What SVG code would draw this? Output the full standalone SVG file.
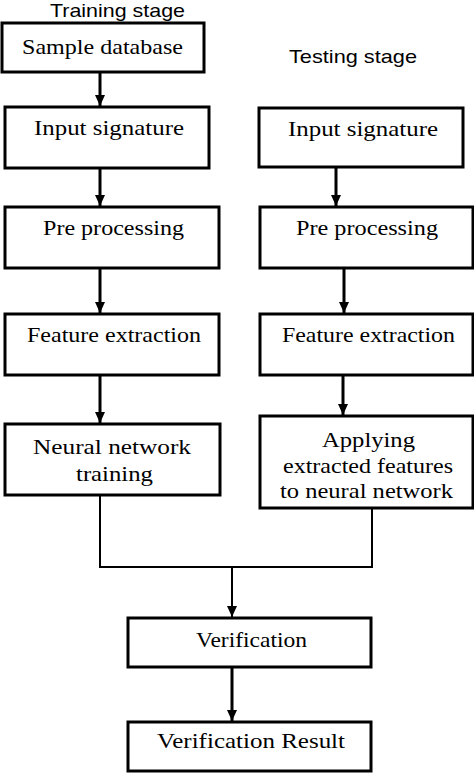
<svg xmlns="http://www.w3.org/2000/svg" width="474" height="773" viewBox="0 0 474 773">
<style>
.box{fill:#fff;stroke:#000;stroke-width:3}
.t{font-family:"Liberation Serif","DejaVu Serif",serif;font-size:21px;fill:#000}
.s{font-family:"Liberation Sans",Arial,sans-serif;font-size:19px;fill:#000}
.a{fill:none;stroke:#000;stroke-width:3}
.c{fill:none;stroke:#000;stroke-width:2}
</style>
<defs>
<marker id="ah" markerUnits="userSpaceOnUse" markerWidth="12" markerHeight="12" viewBox="0 0 12 12" refX="11" refY="6" orient="auto">
<path d="M0,1 L11,6 L0,11 Z" fill="#000"/>
</marker>
</defs>
<text class="s" x="50" y="17" textLength="135" lengthAdjust="spacingAndGlyphs">Training stage</text>
<text class="s" x="289" y="63" textLength="128" lengthAdjust="spacingAndGlyphs">Testing stage</text>
<g id="connectors">
<path class="a" d="M100 72 V106" marker-end="url(#ah)"/>
<path class="a" d="M100 168 V206" marker-end="url(#ah)"/>
<path class="a" d="M100 268 V313" marker-end="url(#ah)"/>
<path class="a" d="M100 375 V423" marker-end="url(#ah)"/>
<path class="a" d="M336 167 V206" marker-end="url(#ah)"/>
<path class="a" d="M344 268 V313" marker-end="url(#ah)"/>
<path class="a" d="M343 375 V415" marker-end="url(#ah)"/>
<path class="c" d="M100 495 V567 H372 V508"/>
<path class="c" d="M232 567 V617" marker-end="url(#ah)"/>
<path class="a" d="M232 667 V721" marker-end="url(#ah)"/>
</g>
<g id="sample-database">
<rect class="box" x="2" y="23" width="202" height="49"/>
<text class="t" x="22" y="54" textLength="161" lengthAdjust="spacingAndGlyphs">Sample database</text>
</g>
<g id="train-input">
<rect class="box" x="5" y="107" width="204" height="61"/>
<text class="t" x="34" y="135" textLength="150" lengthAdjust="spacingAndGlyphs">Input signature</text>
</g>
<g id="train-pre">
<rect class="box" x="5" y="207" width="214" height="61"/>
<text class="t" x="43" y="235" textLength="141" lengthAdjust="spacingAndGlyphs">Pre processing</text>
</g>
<g id="train-feature">
<rect class="box" x="5" y="314" width="214" height="61"/>
<text class="t" x="27" y="342" textLength="174" lengthAdjust="spacingAndGlyphs">Feature extraction</text>
</g>
<g id="train-nn">
<rect class="box" x="5" y="424" width="215" height="71"/>
<text class="t" x="33" y="454" textLength="158" lengthAdjust="spacingAndGlyphs">Neural network</text>
<text class="t" x="76" y="481" textLength="77" lengthAdjust="spacingAndGlyphs">training</text>
</g>
<g id="test-input">
<rect class="box" x="259" y="108" width="204" height="59"/>
<text class="t" x="288" y="136" textLength="150" lengthAdjust="spacingAndGlyphs">Input signature</text>
</g>
<g id="test-pre">
<rect class="box" x="260" y="207" width="213" height="61"/>
<text class="t" x="296" y="235" textLength="142" lengthAdjust="spacingAndGlyphs">Pre processing</text>
</g>
<g id="test-feature">
<rect class="box" x="260" y="314" width="213" height="61"/>
<text class="t" x="282" y="342" textLength="173" lengthAdjust="spacingAndGlyphs">Feature extraction</text>
</g>
<g id="test-apply">
<rect class="box" x="260" y="416" width="213" height="92"/>
<text class="t" x="322" y="447" textLength="93" lengthAdjust="spacingAndGlyphs">Applying</text>
<text class="t" x="283" y="473" textLength="170" lengthAdjust="spacingAndGlyphs">extracted features</text>
<text class="t" x="280" y="498" textLength="173" lengthAdjust="spacingAndGlyphs">to neural network</text>
</g>
<g id="verification">
<rect class="box" x="128" y="618" width="243" height="49"/>
<text class="t" x="196" y="647" textLength="111" lengthAdjust="spacingAndGlyphs">Verification</text>
</g>
<g id="verification-result">
<rect class="box" x="128" y="722" width="243" height="49"/>
<text class="t" x="157" y="748" textLength="188" lengthAdjust="spacingAndGlyphs">Verification Result</text>
</g>
</svg>
